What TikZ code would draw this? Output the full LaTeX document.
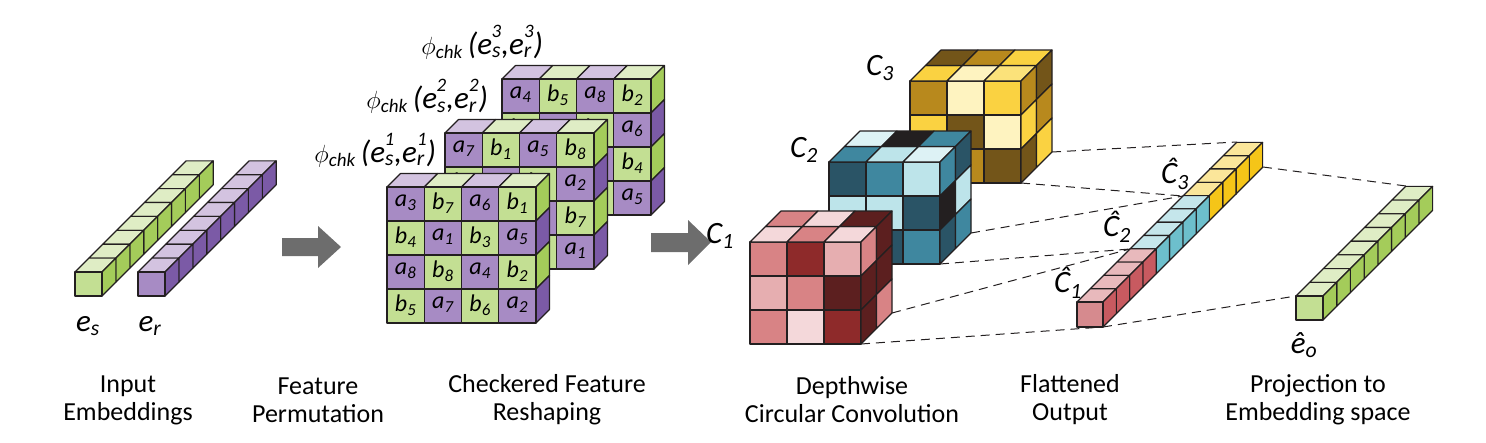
\documentclass[tikz,border=0pt]{standalone}
\usepackage{fontspec}
\setmainfont{Carlito}
\begin{document}
\definecolor{ln}{HTML}{231F20}
\definecolor{gF}{HTML}{C3DF93}\definecolor{gT}{HTML}{DFEDC5}\definecolor{gS}{HTML}{A4CC5A}
\definecolor{pF}{HTML}{A78BC4}\definecolor{pT}{HTML}{D3C3E0}\definecolor{pS}{HTML}{7B5AA6}
\definecolor{rF}{HTML}{D68A8E}\definecolor{rT}{HTML}{E8B9BC}\definecolor{rS}{HTML}{C85A60}
\definecolor{bT}{HTML}{C5E6EB}\definecolor{bS}{HTML}{6DBFCC}
\definecolor{yT}{HTML}{FBE69A}\definecolor{yS}{HTML}{F5C518}
\definecolor{r1}{HTML}{D88385}\definecolor{r2}{HTML}{8E2A2A}\definecolor{r3}{HTML}{E6AEB0}\definecolor{r4}{HTML}{5C1F1F}\definecolor{r5}{HTML}{F4D8DA}
\definecolor{c1}{HTML}{2A5466}\definecolor{c2}{HTML}{3F879F}\definecolor{c3}{HTML}{BDE4EA}\definecolor{c4}{HTML}{DDF2F5}\definecolor{c5}{HTML}{231F20}
\definecolor{y1}{HTML}{735519}\definecolor{y2}{HTML}{B8891D}\definecolor{y3}{HTML}{FAD241}\definecolor{y4}{HTML}{FEF3C0}\definecolor{y5}{HTML}{FBE27A}
\definecolor{arr}{HTML}{6D6D6D}
\newcommand{\mycub}[8]{%
 \filldraw[fill=#7] (#1,#2) -- ++(#5,-#5) -- ++(#3,0) -- ++(-#5,#5) -- cycle;
 \filldraw[fill=#8] (#1+#3,#2) -- ++(#5,-#5) -- ++(0,#4) -- ++(-#5,#5) -- cycle;
 \filldraw[fill=#6] (#1,#2) rectangle ++(#3,#4);}
\newcommand{\mychk}[3]{%
 \foreach \l/\s [count=\n from 0] in {#3} {
  \pgfmathtruncatemacro{\rr}{int(\n/4)}
  \pgfmathtruncatemacro{\cc}{mod(\n,4)}
  \pgfmathtruncatemacro{\pp}{mod(\rr+\cc,2)}
  \ifnum\pp=0 \def\cF{pF}\def\cT{pT}\def\cS{pS}\else\def\cF{gF}\def\cT{gT}\def\cS{gS}\fi
  \ifnum\rr=0 \filldraw[fill=\cT] (#1+\cc*37.25,#2) -- ++(13.5,-13.5) -- ++(37.25,0) -- ++(-13.5,13.5) -- cycle;\fi
  \ifnum\cc=3 \filldraw[fill=\cS] (#1+149,#2+\rr*34) -- ++(13.5,-13.5) -- ++(0,34) -- ++(-13.5,13.5) -- cycle;\fi
  \filldraw[fill=\cF] (#1+\cc*37.25,#2+\rr*34) rectangle ++(37.25,34);
  \node[font=\fontsize{24}{24}\selectfont\itshape] at (#1+\cc*37.25+18.6,#2+\rr*34+16) {\l\textsubscript{\s}};
 }}
\newcommand{\myconv}[5]{%
 \foreach \f [count=\n from 0] in {#3} {
  \pgfmathtruncatemacro{\rr}{int(\n/3)}\pgfmathtruncatemacro{\cc}{mod(\n,3)}
  \filldraw[fill=\f] (#1+\cc*37,#2+\rr*34) rectangle ++(37,34);}
 \foreach \f [count=\n from 0] in {#4} {
  \pgfmathtruncatemacro{\kk}{int(\n/3)}\pgfmathtruncatemacro{\cc}{mod(\n,3)}
  \filldraw[fill=\f] (#1+\cc*37+\kk*15.5,#2-\kk*15.5) -- ++(37,0) -- ++(15.5,-15.5) -- ++(-37,0) -- cycle;}
 \foreach \f [count=\n from 0] in {#5} {
  \pgfmathtruncatemacro{\rr}{int(\n/2)}\pgfmathtruncatemacro{\kk}{mod(\n,2)}
  \filldraw[fill=\f] (#1+111+\kk*15.5,#2+\rr*34-\kk*15.5) -- ++(15.5,-15.5) -- ++(0,34) -- ++(-15.5,15.5) -- cycle;}
}
\newcommand{\myphi}[1]{{\fontsize{36}{36}\selectfont$\phi$}\textsubscript{\fontsize{19}{19}\selectfont chk}\,(e\textsubscript{s}\kern-0.3em\raisebox{0.55em}{\fontsize{19}{19}\selectfont #1},e\textsubscript{r}\kern-0.25em\raisebox{0.55em}{\fontsize{19}{19}\selectfont #1})}
\begin{tikzpicture}[x=1pt,y=-1pt,line width=1.1pt,draw=ln,line join=round,
  lab/.style={font=\fontsize{26}{28}\selectfont,align=center},
  sym/.style={font=\fontsize{31}{31}\selectfont\itshape},
  dl/.style={dashed,dash pattern=on 9pt off 6pt,line width=1pt,draw=ln},
  garr/.style={fill=arr}]
\useasboundingbox (0,0) rectangle (1486,442);
\foreach \i in {7,...,0} {\mycub{75+\i*13.9}{272-\i*13.9}{27}{24}{13.9}{gF}{gT}{gS}}
\foreach \i in {7,...,0} {\mycub{138+\i*13.9}{272-\i*13.9}{27}{24}{13.9}{pF}{pT}{pS}}
\node[sym] (es) at (88,326) {e\textsubscript{s}};
\node[sym] (er) at (150,326) {e\textsubscript{r}};
\fill[garr] (282,238) -- (318,238) -- (318,226) -- (341,247) -- (318,268) -- (318,256) -- (282,256) -- cycle;
\fill[garr] (651,233) -- (688,233) -- (688,220) -- (711,242) -- (688,265) -- (688,252) -- (651,252) -- cycle;
\mychk{502}{79}{a/4,b/5,a/8,b/2,b/1,a/3,b/7,a/6,a/2,b/8,a/1,b/4,b/6,a/7,b/3,a/5}
\mychk{445}{133}{a/7,b/1,a/5,b/8,b/3,a/4,b/6,a/2,a/6,b/2,a/8,b/7,b/5,a/3,b/4,a/1}
\mychk{387}{187}{a/3,b/7,a/6,b/1,b/4,a/1,b/3,a/5,a/8,b/8,a/4,b/2,b/5,a/7,b/6,a/2}
\node[sym,anchor=east] (p1) at (440,150) {\myphi{1}};
\node[sym,anchor=east] (p2) at (492,96) {\myphi{2}};
\node[sym,anchor=east] (p3) at (547,42) {\myphi{3}};
\myconv{910}{81}{y2,y4,y3,y3,y1,y4,y2,y2,y1}{y3,y4,y5,y1,y2,y3}{y2,y1,y3,y2,y1,y3}
\myconv{829}{162}{c1,c2,c3,c3,c3,c1,c1,c1,c2}{c2,c3,c4,c4,c5,c2}{c2,c1,c5,c3,c1,c2}
\myconv{750}{242}{r1,r2,r3,r3,r1,r4,r1,r5,r2}{r5,r1,r5,r1,r5,r4}{r1,r4,r4,r4,r4,r1}
\node[sym] (C1) at (720,236) {C\textsubscript{1}};
\node[sym] (C2) at (804,150) {C\textsubscript{2}};
\node[sym] (C3) at (880,68) {C\textsubscript{3}};
\foreach \i in {11,...,0} {
 \ifnum\i<4 \def\tc{rT}\def\sc{rS}\else\ifnum\i<8 \def\tc{bT}\def\sc{bS}\else\def\tc{yT}\def\sc{yS}\fi\fi
 \mycub{1077+\i*13.3}{302-\i*13.3}{26}{25}{13.3}{rF}{\tc}{\sc}}
\node[sym] (h1) at (1068,283) {\^{C}\textsubscript{1}};
\node[sym] (h2) at (1117,227) {\^{C}\textsubscript{2}};
\node[sym] (h3) at (1175,174) {\^{C}\textsubscript{3}};
\foreach \i in {7,...,0} {\mycub{1296+\i*13.7}{296-\i*13.7}{27}{24}{13.7}{gF}{gT}{gS}}
\node[sym] (eo) at (1304,345) {\^{e}\textsubscript{o}};
\coordinate (a1) at (861,344); \coordinate (a2) at (892,313);
\coordinate (b1) at (940,264); \coordinate (b2) at (971,233);
\coordinate (d1) at (1021,183); \coordinate (d2) at (1052,152);
\coordinate (f0) at (1103,327); \coordinate (f4) at (1130,249);
\coordinate (f8) at (1183,196); \coordinate (f12) at (1237,142);
\coordinate (fe) at (1263,167);
\coordinate (o0) at (1296,296); \coordinate (o8) at (1406,186);
\draw[dl] (a1) -- (f0); \draw[dl] (a2) -- (f4);
\draw[dl] (b1) -- (f4); \draw[dl] (b2) -- (f8);
\draw[dl] (d1) -- (f8); \draw[dl] (d2) -- (f12);
\draw[dl] (f0) -- (o0); \draw[dl] (fe) -- (o8);
\node[lab] (l1) at (128,400) {Input\\Embeddings};
\node[lab] (l2) at (318,400) {Feature\\Permutation};
\node[lab] (l3) at (547,400) {Checkered Feature\\Reshaping};
\node[lab] (l4) at (852,400) {Depthwise\\Circular Convolution};
\node[lab] (l5) at (1070,400) {Flattened\\Output};
\node[lab] (l6) at (1318,400) {Projection to\\Embedding space};
\end{tikzpicture}
\end{document}
